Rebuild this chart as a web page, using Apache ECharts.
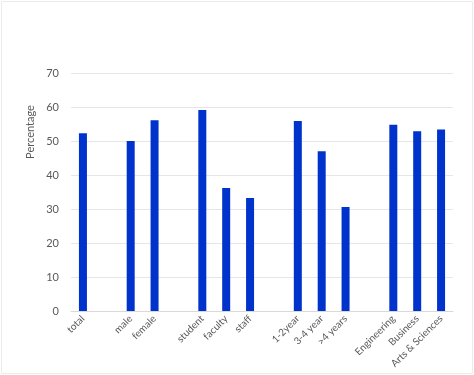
<!DOCTYPE html>
<html>
<head>
<meta charset="utf-8">
<script src="https://cdn.jsdelivr.net/npm/echarts@6/dist/echarts.min.js"></script>
<style>html,body{margin:0;padding:0;background:#fff;}#c{width:474px;height:375px;}</style>
</head>
<body>
<div id="c"></div>
<script>
const categories = ['total', '', 'male', 'female', '', 'student', 'faculty', 'staff', '', '1-2year', '3-4 year', '>4 years', '', 'Engineering', 'Business', 'Arts & Sciences'];
const values = [52.3, null, 50.0, 56.1, null, 59.1, 36.2, 33.2, null, 55.9, 47.0, 30.6, null, 54.8, 52.9, 53.4];
const yTicks = [0, 10, 20, 30, 40, 50, 60, 70];
const yTitle = 'Percentage';

const chart = echarts.init(document.getElementById('c'), null, {renderer: 'canvas'});
const font = 'Lato, "Open Sans", sans-serif';
chart.setOption({
  animation: false,
  backgroundColor: '#fff',
  grid: {left: 71, right: 21, top: 73, bottom: 64, containLabel: false},
  graphic: [
    {type: 'rect', shape: {x: 1.5, y: 1.5, width: 471, height: 372}, style: {fill: 'none', stroke: '#ececec', lineWidth: 1}, silent: true},
    {type: 'text', x: 30, y: 132, rotation: Math.PI / 2, style: {text: yTitle, fill: '#595959', font: '11px ' + font, textAlign: 'center', textVerticalAlign: 'middle'}}
  ],
  xAxis: {
    type: 'category',
    data: categories,
    axisLine: {show: true, lineStyle: {color: '#d9d9d9'}},
    axisTick: {show: false},
    axisLabel: {rotate: 45, interval: 0, color: '#595959', fontSize: 10, fontFamily: font, margin: 6}
  },
  yAxis: {
    type: 'value',
    min: yTicks[0],
    max: yTicks[yTicks.length - 1],
    interval: 10,
    axisLine: {show: false},
    axisTick: {show: false},
    splitLine: {lineStyle: {color: '#e6e6e6'}},
    axisLabel: {color: '#595959', fontSize: 11, fontFamily: font, margin: 12}
  },
  series: [{
    type: 'bar',
    data: values,
    barWidth: 8,
    itemStyle: {color: '#0033cc'}
  }]
});
</script>
</body>
</html>
